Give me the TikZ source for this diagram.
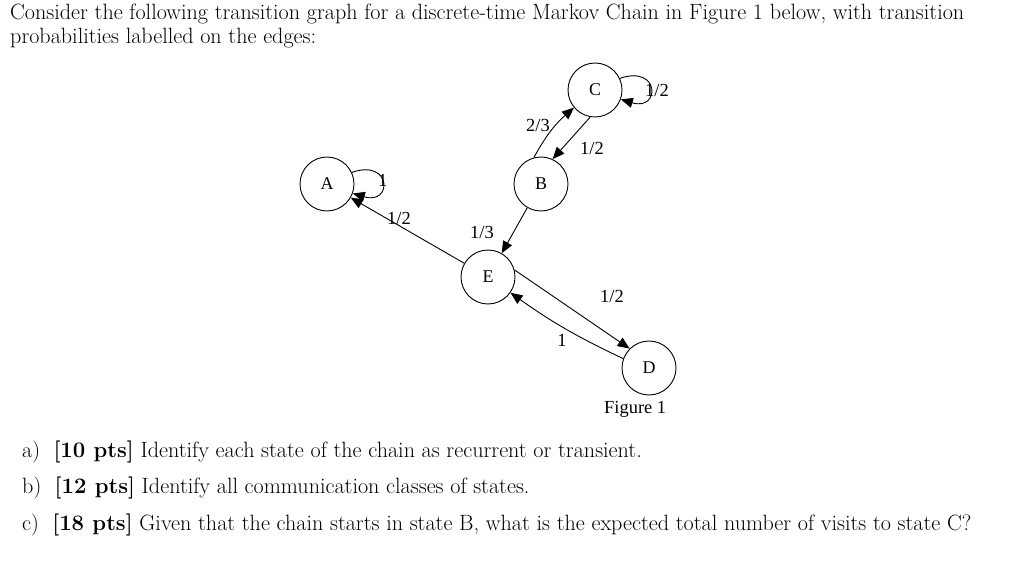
\documentclass[tikz,border=0pt]{standalone}
\usepackage{fontspec}
\newfontfamily\gfont{Liberation Serif}
\usetikzlibrary{arrows.meta}
\begin{document}
\begin{tikzpicture}[x=1bp,y=-1bp,
  st/.style={circle,draw,line width=0.9bp,minimum size=54bp,inner sep=0pt,font=\gfont\fontsize{18}{20}\selectfont},
  ed/.style={-{Triangle[length=12bp,width=10bp]},line width=0.9bp},
  lb/.style={font=\gfont\fontsize{18.5}{20}\selectfont,inner sep=1bp},
  txt/.style={anchor=west,inner sep=0pt,font=\fontsize{22.2}{26}\selectfont}]
\useasboundingbox (0,0) rectangle (1024,564);
\node[txt] (t1) at (10,14) {Consider the following transition graph for a discrete-time Markov Chain in Figure 1 below, with transition};
\node[txt] (t2) at (10,38) {probabilities labelled on the edges:};
\node[st] (A) at (327,184) {A};
\node[st] (B) at (541,184) {B};
\node[st] (C) at (595,90) {C};
\node[st] (E) at (488,277) {E};
\node[st] (D) at (649,368) {D};
\draw[ed] (A.25) .. controls +(40,-14) and +(40,12) .. (A.-20);
\node[lb,anchor=west] (la) at (377,180) {1};
\draw[ed] (C.25) .. controls +(40,-14) and +(40,12) .. (C.-20);
\node[lb,anchor=west] (lc) at (644,90) {1/2};
\draw[ed] (B.105) to[bend left=10] (C.220);
\node[lb] (lbc) at (538,125) {2/3};
\draw[ed] (C.260) -- (B.65);
\node[lb] (lcb) at (592,148) {1/2};
\draw[ed] (B.240) -- (E.60);
\node[lb] (lbe) at (482,232) {1/3};
\draw[ed] (E.150) -- (A.-30);
\node[lb] (lea) at (399,218) {1/2};
\draw[ed] (E.15) -- (D.135);
\node[lb] (led) at (612,296) {1/2};
\draw[ed] (D.160) to[bend left=5] (E.-35);
\node[lb] (lde) at (562,340) {1};
\node[lb,anchor=west] (fig) at (603,409) {Figure 1};
\node[txt] (qa) at (22,452) {a)\ \ \textbf{[10 pts]} Identify each state of the chain as recurrent or transient.};
\node[txt] (qb) at (22,488) {b)\ \ \textbf{[12 pts]} Identify all communication classes of states.};
\node[txt] (qc) at (22,525) {c)\ \ \textbf{[18 pts]} Given that the chain starts in state B, what is the expected total number of visits to state C?};
\end{tikzpicture}
\end{document}
